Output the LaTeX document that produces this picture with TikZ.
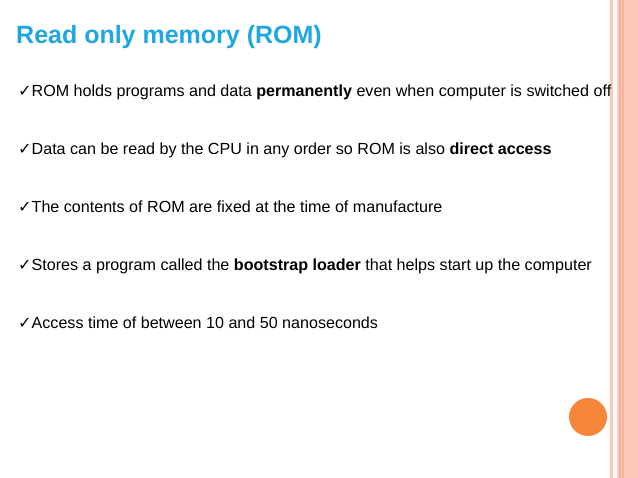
\documentclass[tikz,border=0pt]{standalone}
\usepackage{fontspec}
\setmainfont{Liberation Sans}
\newfontfamily\chkfont{DejaVu Sans}
\definecolor{ttl}{HTML}{1EA7E0}
\definecolor{band}{HTML}{FBC9B6}
\definecolor{bandd}{HTML}{F7B39C}
\definecolor{dot}{HTML}{F5863A}
\begin{document}
\begin{tikzpicture}[x=1pt,y=-1pt,
  bul/.style={anchor=west,inner sep=0pt,font=\fontsize{16.1}{18}\selectfont}]
\useasboundingbox (0,0) rectangle (638,478);
\fill[white] (0,0) rectangle (638,478);
\fill[band] (610,0) rectangle (613,478);
\fill[band] (617,0) rectangle (638,478);
\fill[bandd] (619,0) rectangle (620.5,478);
\fill[bandd] (622,0) rectangle (623.5,478);
\fill[dot] (588,417) circle (19);
\node[anchor=west,inner sep=0pt,text=ttl,font=\fontsize{25}{28}\selectfont\bfseries] (t) at (16,37) {Read only memory (ROM)};
\node[bul] (b1) at (18,92) {{\chkfont\bfseries ✓}ROM holds programs and data \textbf{permanently} even when computer is switched off};
\node[bul] (b2) at (18,150) {{\chkfont\bfseries ✓}Data can be read by the CPU in any order so ROM is also \textbf{direct access}};
\node[bul] (b3) at (18,207) {{\chkfont\bfseries ✓}The contents of ROM are fixed at the time of manufacture};
\node[bul] (b4) at (18,266) {{\chkfont\bfseries ✓}Stores a program called the \textbf{bootstrap loader} that helps start up the computer};
\node[bul] (b5) at (18,323) {{\chkfont\bfseries ✓}Access time of between 10 and 50 nanoseconds};
\end{tikzpicture}
\end{document}
